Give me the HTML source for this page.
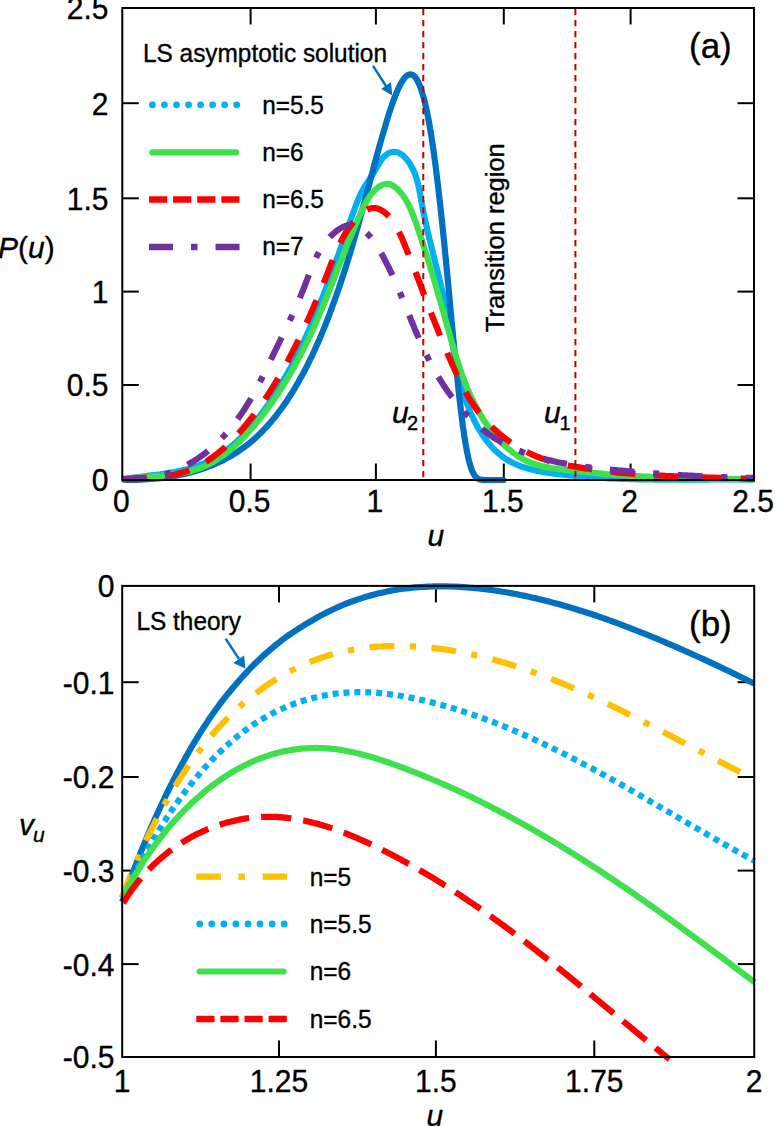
<!DOCTYPE html><html><head><meta charset="utf-8"><style>html,body{margin:0;padding:0;background:#fff;overflow:hidden;font-family:"Liberation Sans",sans-serif}svg{display:block}</style></head><body><svg width="775" height="1126" viewBox="0 0 775 1126" font-family="Liberation Sans">
<style>text{font-family:"Liberation Sans",sans-serif;stroke:#000;stroke-width:0.35px;fill:#000}</style>
<rect width="775" height="1126" fill="#fff"/>
<g stroke="#000" stroke-width="2" fill="none">
<line x1="250.6" y1="480" x2="250.6" y2="463.5"/>
<line x1="250.6" y1="8" x2="250.6" y2="24.5"/>
<line x1="375.9" y1="480" x2="375.9" y2="463.5"/>
<line x1="375.9" y1="8" x2="375.9" y2="24.5"/>
<line x1="503.8" y1="480" x2="503.8" y2="463.5"/>
<line x1="503.8" y1="8" x2="503.8" y2="24.5"/>
<line x1="630.6" y1="480" x2="630.6" y2="463.5"/>
<line x1="630.6" y1="8" x2="630.6" y2="24.5"/>
<line x1="122.3" y1="385.0" x2="138.8" y2="385.0"/>
<line x1="754" y1="385.0" x2="737.5" y2="385.0"/>
<line x1="122.3" y1="291.6" x2="138.8" y2="291.6"/>
<line x1="754" y1="291.6" x2="737.5" y2="291.6"/>
<line x1="122.3" y1="198.3" x2="138.8" y2="198.3"/>
<line x1="754" y1="198.3" x2="737.5" y2="198.3"/>
<line x1="122.3" y1="103.2" x2="138.8" y2="103.2"/>
<line x1="754" y1="103.2" x2="737.5" y2="103.2"/>
</g>
<g fill="none" stroke-linejoin="round">
<path d="M122.0 479.5L125.4 478.9L128.7 478.4L132.1 477.9L135.5 477.4L139.0 477.0L142.5 476.5L146.0 476.1L149.5 475.6L153.1 475.2L156.6 474.7L160.2 474.3L163.7 473.8L167.3 473.2L170.8 472.6L174.3 472.0L177.8 471.3L181.3 470.6L184.8 469.8L188.2 468.9L191.5 467.9L194.9 466.9L198.2 465.7L201.4 464.5L204.6 463.2L207.7 461.7L210.8 460.2L213.8 458.5L216.7 456.8L219.6 455.0L222.5 453.1L225.3 451.1L228.0 449.0L230.8 446.8L233.4 444.6L236.0 442.3L238.6 439.9L241.1 437.5L243.6 435.0L246.0 432.5L248.4 429.9L250.7 427.2L253.0 424.5L255.3 421.8L257.5 419.0L259.7 416.2L261.8 413.4L263.9 410.5L266.0 407.6L268.1 404.7L270.1 401.7L272.0 398.7L274.0 395.8L275.9 392.8L277.8 389.8L279.6 386.8L281.4 383.8L283.2 380.7L285.0 377.7L286.7 374.6L288.4 371.6L290.1 368.5L291.8 365.4L293.4 362.4L295.0 359.3L296.6 356.2L298.2 353.0L299.7 349.9L301.2 346.8L302.7 343.7L304.2 340.5L305.7 337.4L307.1 334.2L308.5 331.0L309.9 327.9L311.3 324.7L312.7 321.5L314.1 318.3L315.4 315.1L316.7 311.9L318.0 308.7L319.3 305.5L320.6 302.2L321.9 299.0L323.2 295.8L324.4 292.5L325.7 289.3L326.9 286.0L328.1 282.7L329.3 279.5L330.5 276.2L331.7 272.9L332.9 269.7L334.1 266.4L335.3 263.1L336.5 259.8L337.7 256.5L338.9 253.2L340.0 249.9L341.2 246.6L342.4 243.3L343.5 240.0L344.7 236.7L345.9 233.3L347.1 230.0L348.2 226.7L349.4 223.4L350.6 220.0L351.8 216.7L353.0 213.4L354.2 210.1L355.4 206.7L356.6 203.4L357.9 200.2L359.3 197.0L360.7 193.9L362.3 190.8L363.9 187.9L365.7 185.0L367.5 182.2L369.4 179.4L371.2 176.5L373.1 173.5L375.0 170.5L376.8 167.3L378.7 164.0L380.6 160.8L382.8 157.8L385.3 155.4L388.1 153.4L391.1 152.2L394.1 151.8L397.0 152.2L399.8 153.3L402.5 155.1L405.0 157.5L407.4 160.2L409.6 163.3L411.5 166.6L413.3 170.1L414.8 173.5L416.0 177.0L417.1 180.4L418.0 183.8L418.8 187.2L419.5 190.6L420.1 194.0L420.7 197.4L421.3 200.7L421.9 204.1L422.5 207.5L423.2 210.9L423.9 214.3L424.6 217.7L425.3 221.1L426.1 224.5L426.9 227.8L427.6 231.2L428.4 234.6L429.2 238.0L430.1 241.4L430.9 244.8L431.7 248.2L432.6 251.6L433.4 255.0L434.3 258.4L435.1 261.8L436.0 265.2L436.8 268.6L437.7 272.0L438.5 275.4L439.3 278.8L440.2 282.2L441.0 285.7L441.8 289.1L442.6 292.5L443.4 295.9L444.1 299.4L444.9 302.8L445.6 306.2L446.3 309.7L447.0 313.1L447.7 316.6L448.3 320.0L448.9 323.5L449.5 326.9L450.1 330.4L450.7 333.8L451.3 337.3L451.9 340.7L452.5 344.2L453.1 347.6L453.7 351.1L454.4 354.5L455.0 357.9L455.7 361.4L456.3 364.8L457.0 368.2L457.8 371.6L458.5 375.0L459.3 378.4L460.2 381.7L461.1 385.1L462.0 388.4L463.0 391.7L464.0 395.1L465.1 398.4L466.2 401.6L467.4 404.9L468.7 408.1L470.0 411.4L471.4 414.6L472.9 417.8L474.4 420.9L476.1 424.1L477.8 427.2L479.6 430.3L481.5 433.3L483.4 436.3L485.5 439.1L487.6 441.9L489.9 444.7L492.2 447.3L494.6 449.8L497.1 452.2L499.7 454.4L502.4 456.6L505.2 458.5L508.0 460.3L511.0 462.0L514.1 463.5L517.2 464.9L520.4 466.2L523.7 467.3L527.0 468.3L530.4 469.3L533.8 470.1L537.3 470.9L540.8 471.5L544.3 472.1L547.8 472.7L551.4 473.2L554.9 473.7L558.5 474.1L562.0 474.5L565.5 474.9L569.0 475.3L572.6 475.6L576.1 475.9L579.6 476.2L583.0 476.5L586.5 476.8L590.0 477.1L593.4 477.3L596.9 477.6L600.4 477.8L603.8 478.0L607.2 478.2L610.7 478.3L614.1 478.5L617.5 478.6L621.0 478.8L624.4 478.9L627.8 479.0L631.2 479.1L634.7 479.2L638.1 479.3L641.5 479.4L644.9 479.4L648.3 479.5L651.8 479.5L655.2 479.6L658.6 479.6L662.1 479.6L665.5 479.6L668.9 479.6L672.4 479.7L675.8 479.7L679.3 479.7L682.7 479.7L686.2 479.6L689.7 479.6L693.2 479.6L696.7 479.6L700.2 479.6L703.7 479.6L707.2 479.6L710.7 479.5L714.2 479.5L717.8 479.5L721.4 479.5L724.9 479.5L728.5 479.5L732.1 479.5L735.7 479.5L739.3 479.5L743.0 479.5L746.6 479.5L750.3 479.5L754.0 479.5" stroke="#00b0f0" stroke-width="6.2"/>
<path d="M124.3 480.0L126.7 480.0L129.1 480.0L131.5 479.9L133.9 479.9L136.3 479.8L138.7 479.7L141.1 479.6L143.5 479.5L145.9 479.3L148.3 479.2L150.7 479.0L153.1 478.8L155.5 478.6L157.9 478.3L160.3 478.1L162.7 477.8L165.1 477.5L167.5 477.1L169.9 476.8L172.3 476.4L174.7 476.0L177.1 475.5L179.5 475.0L181.9 474.5L184.3 474.0L186.7 473.4L189.1 472.8L191.5 472.2L193.9 471.5L196.3 470.8L198.7 470.1L201.1 469.3L203.5 468.5L205.9 467.6L208.3 466.7L210.7 465.8L213.1 464.8L215.5 463.8L217.9 462.7L220.3 461.6L222.7 460.4L225.1 459.1L227.5 457.8L229.9 456.5L232.3 455.1L234.7 453.6L237.1 452.1L239.5 450.5L241.9 448.8L244.3 447.1L246.7 445.2L249.1 443.4L251.5 441.4L253.9 439.4L256.2 437.3L258.5 435.1L260.9 432.8L263.2 430.4L265.6 427.9L267.9 425.4L270.3 422.7L272.6 419.9L275.0 417.1L277.3 414.1L279.6 411.0L282.0 407.8L284.3 404.5L286.7 401.1L289.0 397.5L291.4 393.8L293.7 390.0L296.0 386.0L298.4 382.0L300.7 377.8L303.1 373.5L305.4 369.1L307.8 364.5L310.1 359.7L312.5 354.8L314.8 349.8L317.1 344.5L319.5 339.2L321.8 333.6L324.2 327.9L326.5 322.0L328.9 315.9L331.2 309.7L333.5 303.3L335.9 296.7L338.2 290.0L340.6 283.1L342.9 276.0L345.3 268.8L347.6 261.4L349.9 253.8L352.2 246.1L354.4 238.3L356.7 230.3L359.0 222.2L361.2 214.0L363.5 205.7L365.8 197.4L368.0 188.8L370.3 180.2L372.6 171.6L374.8 163.1L377.1 154.6L379.4 146.2L381.8 138.0L384.1 130.0L386.4 122.2L388.7 114.7L391.0 107.6L393.3 101.0L395.7 94.9L398.0 89.4L400.3 84.6L402.6 80.6L404.9 77.5L407.2 75.4L409.6 74.4L412.0 74.6L414.4 76.2L416.8 79.3L419.1 84.0L421.5 90.3L423.9 98.5L426.3 108.5L428.7 120.4L431.1 134.4L433.5 150.4L435.9 168.3L438.3 188.1L440.7 209.4L443.1 232.1L445.5 256.0L447.9 280.7L450.2 306.0L452.6 331.2L453.3 337.9L453.9 344.6L454.6 351.2L455.2 357.7L455.9 364.1L456.5 370.4L457.2 376.7L457.8 382.7L458.4 388.8L459.1 394.7L459.7 400.4L460.4 406.0L461.0 411.4L461.7 416.6L462.3 421.6L462.9 426.5L463.6 431.1L464.2 435.4L464.9 439.6L465.5 443.5L466.2 447.2L466.8 450.7L467.5 453.9L468.1 457.0L468.7 459.7L469.4 462.3L470.0 464.6L470.7 466.7L471.3 468.6L472.0 470.4L472.6 471.9L473.3 473.2L473.9 474.4L474.5 475.4L475.2 476.3L475.8 477.0L476.5 477.7L477.1 478.2L477.8 478.6L478.4 478.9L479.1 479.2L479.7 479.4L480.3 479.6L481.0 479.7L481.6 479.8L482.3 479.9L482.9 479.9L483.6 479.9L484.2 480.0L484.9 480.0L485.5 480.0L486.1 480.0L486.8 480.0L487.4 480.0L488.1 480.0L488.7 480.0L489.4 480.0L490.0 480.0L490.7 480.0L491.3 480.0L491.9 480.0L492.6 480.0L493.2 480.0L493.9 480.0L494.5 480.0L495.2 480.0L495.8 480.0L496.5 480.0L497.1 480.0L497.7 480.0L498.4 480.0L499.0 480.0L499.7 480.0L500.3 480.0L501.0 480.0L501.6 480.0L502.3 480.0L502.9 480.0L503.5 480.0L503.5 478.3" stroke="#0070c0" stroke-width="6.2"/>
<path d="M122.0 479.5L125.1 479.1L128.3 478.7L131.5 478.3L134.7 478.0L137.9 477.7L141.2 477.4L144.5 477.1L147.8 476.9L151.2 476.6L154.5 476.3L157.8 476.1L161.2 475.8L164.5 475.4L167.9 475.1L171.2 474.6L174.5 474.2L177.8 473.7L181.1 473.1L184.3 472.5L187.6 471.8L190.7 471.0L193.9 470.1L197.0 469.2L200.0 468.1L203.0 466.9L206.0 465.6L208.9 464.2L211.7 462.8L214.5 461.2L217.3 459.5L220.0 457.7L222.6 455.9L225.3 454.0L227.8 452.0L230.3 449.9L232.8 447.8L235.3 445.6L237.7 443.3L240.0 441.0L242.4 438.7L244.7 436.3L246.9 433.9L249.1 431.4L251.3 428.9L253.5 426.4L255.6 423.9L257.7 421.3L259.8 418.8L261.8 416.2L263.8 413.6L265.8 410.9L267.8 408.3L269.7 405.6L271.6 403.0L273.5 400.3L275.3 397.6L277.1 394.9L278.9 392.1L280.7 389.4L282.4 386.6L284.2 383.8L285.9 381.0L287.6 378.2L289.2 375.4L290.8 372.6L292.5 369.8L294.1 366.9L295.6 364.0L297.2 361.2L298.7 358.3L300.2 355.4L301.7 352.5L303.2 349.6L304.7 346.7L306.1 343.7L307.5 340.8L308.9 337.8L310.3 334.9L311.7 331.9L313.1 329.0L314.4 326.0L315.7 323.0L317.0 320.0L318.3 317.0L319.6 314.0L320.9 311.0L322.2 308.0L323.4 305.0L324.7 302.0L325.9 299.0L327.1 295.9L328.3 292.9L329.6 289.9L330.8 286.8L331.9 283.8L333.1 280.8L334.3 277.7L335.5 274.7L336.7 271.7L337.9 268.6L339.0 265.6L340.2 262.6L341.4 259.5L342.6 256.5L343.8 253.5L345.0 250.4L346.2 247.4L347.4 244.4L348.6 241.3L349.9 238.3L351.1 235.3L352.4 232.3L353.7 229.2L354.9 226.2L356.3 223.2L357.6 220.2L358.9 217.2L360.3 214.2L361.7 211.2L363.1 208.2L364.5 205.3L366.0 202.3L367.7 199.4L369.5 196.6L371.5 193.8L373.8 191.2L376.3 188.8L378.9 186.7L381.7 185.1L384.5 184.1L387.3 183.9L390.2 184.4L392.9 185.6L395.6 187.5L398.1 189.8L400.5 192.4L402.7 195.1L404.6 197.9L406.4 200.8L408.1 203.8L409.6 206.8L410.9 209.8L412.2 212.8L413.4 215.9L414.5 219.0L415.6 222.0L416.7 225.1L417.8 228.2L418.8 231.3L419.9 234.4L420.9 237.5L421.9 240.6L422.9 243.7L423.9 246.8L424.9 249.9L425.9 253.1L426.9 256.2L427.9 259.3L428.8 262.4L429.8 265.5L430.7 268.6L431.7 271.7L432.6 274.9L433.5 278.0L434.5 281.1L435.4 284.2L436.3 287.4L437.2 290.5L438.1 293.6L439.0 296.8L439.9 299.9L440.8 303.0L441.7 306.2L442.6 309.3L443.5 312.5L444.3 315.6L445.2 318.8L446.1 321.9L447.0 325.1L447.9 328.2L448.8 331.4L449.7 334.5L450.5 337.7L451.4 340.8L452.3 344.0L453.3 347.2L454.2 350.3L455.1 353.4L456.1 356.6L457.1 359.7L458.1 362.8L459.1 365.9L460.1 369.0L461.2 372.1L462.3 375.2L463.4 378.2L464.6 381.3L465.7 384.3L467.0 387.3L468.2 390.3L469.5 393.3L470.8 396.3L472.2 399.2L473.6 402.1L475.1 405.0L476.6 407.9L478.2 410.8L479.8 413.6L481.5 416.4L483.2 419.1L485.0 421.9L486.8 424.6L488.7 427.3L490.7 429.9L492.7 432.5L494.8 435.1L497.0 437.6L499.2 440.1L501.4 442.4L503.8 444.8L506.2 447.0L508.6 449.1L511.2 451.2L513.8 453.2L516.4 455.0L519.1 456.8L521.9 458.5L524.7 460.0L527.6 461.4L530.6 462.6L533.6 463.8L536.7 464.8L539.8 465.6L542.9 466.4L546.2 467.1L549.4 467.6L552.6 468.2L555.9 468.7L559.2 469.1L562.5 469.5L565.7 470.0L569.0 470.4L572.3 470.7L575.6 471.1L578.8 471.5L582.1 471.8L585.3 472.2L588.6 472.5L591.9 472.8L595.1 473.1L598.4 473.4L601.6 473.7L604.9 474.0L608.1 474.3L611.4 474.5L614.6 474.8L617.9 475.0L621.1 475.2L624.4 475.4L627.6 475.7L630.9 475.9L634.1 476.0L637.4 476.2L640.6 476.4L643.9 476.6L647.1 476.7L650.4 476.9L653.6 477.0L656.9 477.2L660.1 477.3L663.4 477.4L666.6 477.6L669.9 477.7L673.1 477.8L676.4 477.9L679.6 478.0L682.9 478.1L686.1 478.2L689.4 478.3L692.7 478.3L695.9 478.4L699.2 478.5L702.5 478.6L705.7 478.6L709.0 478.7L712.3 478.8L715.5 478.8L718.8 478.9L722.1 479.0L725.4 479.0L728.6 479.1L731.9 479.1L735.2 479.2L738.5 479.2L741.8 479.3L745.1 479.3L748.4 479.4L751.7 479.4L755.0 479.5" stroke="#3ee04c" stroke-width="6.2"/>
<path d="M122.0 479.5L124.9 479.2L127.9 478.8L130.9 478.6L133.9 478.3L137.0 478.1L140.1 478.0L143.2 477.8L146.4 477.6L149.6 477.4L152.7 477.2L155.9 476.9L159.1 476.7L162.3 476.4L165.4 476.0L168.6 475.5L171.7 475.0L174.8 474.5L177.8 473.8L180.8 473.0L183.8 472.1L186.7 471.2L189.6 470.1L192.4 468.9L195.2 467.7L197.9 466.3L200.6 464.9L203.3 463.4L205.9 461.8L208.4 460.2L211.0 458.4L213.5 456.6L215.9 454.8L218.3 452.9L220.7 450.9L223.1 448.9L225.4 446.8L227.7 444.6L229.9 442.5L232.1 440.3L234.3 438.0L236.4 435.7L238.5 433.4L240.6 431.1L242.7 428.7L244.7 426.3L246.7 423.9L248.6 421.5L250.6 419.1L252.5 416.6L254.3 414.2L256.2 411.7L258.0 409.2L259.8 406.7L261.6 404.2L263.4 401.6L265.1 399.1L266.8 396.5L268.5 393.9L270.2 391.3L271.8 388.7L273.4 386.1L275.0 383.5L276.6 380.8L278.2 378.2L279.7 375.5L281.3 372.9L282.8 370.2L284.3 367.5L285.7 364.8L287.2 362.1L288.7 359.3L290.1 356.6L291.5 353.9L292.9 351.1L294.3 348.4L295.7 345.6L297.1 342.8L298.4 340.1L299.8 337.3L301.1 334.5L302.5 331.7L303.8 328.9L305.1 326.1L306.4 323.3L307.6 320.5L308.9 317.7L310.2 314.8L311.4 312.0L312.7 309.2L313.9 306.3L315.1 303.5L316.3 300.6L317.5 297.8L318.7 294.9L319.9 292.1L321.1 289.2L322.3 286.4L323.4 283.5L324.6 280.6L325.7 277.8L326.9 274.9L328.0 272.1L329.1 269.2L330.2 266.3L331.3 263.5L332.5 260.6L333.6 257.7L334.8 254.9L336.0 252.1L337.2 249.2L338.5 246.4L339.9 243.7L341.3 240.9L342.7 238.1L344.2 235.4L345.9 232.7L347.6 230.0L349.4 227.4L351.2 224.8L353.2 222.2L355.4 219.7L357.6 217.2L359.9 214.9L362.3 212.8L364.8 210.9L367.3 209.5L369.9 208.5L372.5 208.0L375.1 208.0L377.7 208.6L380.3 209.7L382.8 211.1L385.2 212.9L387.5 215.0L389.6 217.2L391.6 219.7L393.5 222.2L395.2 224.9L396.8 227.7L398.4 230.6L399.8 233.6L401.2 236.6L402.5 239.6L403.7 242.6L405.0 245.6L406.2 248.6L407.4 251.6L408.6 254.5L409.7 257.4L410.9 260.3L412.0 263.2L413.1 266.0L414.2 268.9L415.3 271.7L416.4 274.5L417.5 277.4L418.6 280.2L419.7 283.0L420.8 285.9L421.8 288.7L422.9 291.5L424.0 294.4L425.1 297.2L426.2 300.1L427.3 303.0L428.4 305.8L429.5 308.7L430.6 311.6L431.7 314.4L432.8 317.3L434.0 320.2L435.1 323.1L436.2 325.9L437.4 328.8L438.5 331.7L439.7 334.6L440.9 337.5L442.0 340.3L443.2 343.2L444.4 346.1L445.6 349.0L446.8 351.8L448.0 354.7L449.3 357.6L450.5 360.4L451.8 363.3L453.0 366.1L454.3 369.0L455.6 371.8L456.9 374.7L458.2 377.5L459.6 380.3L460.9 383.1L462.3 385.9L463.8 388.6L465.3 391.3L466.8 394.1L468.3 396.7L469.9 399.4L471.6 402.0L473.3 404.6L475.1 407.1L476.9 409.6L478.7 412.1L480.7 414.5L482.6 416.9L484.7 419.3L486.7 421.6L488.8 423.8L491.0 426.0L493.2 428.2L495.5 430.3L497.8 432.4L500.1 434.4L502.5 436.3L504.9 438.3L507.4 440.1L509.9 441.9L512.4 443.6L515.0 445.3L517.6 447.0L520.3 448.5L523.0 450.0L525.7 451.5L528.5 452.8L531.3 454.2L534.1 455.4L537.0 456.6L539.8 457.7L542.8 458.8L545.7 459.7L548.7 460.7L551.7 461.5L554.7 462.3L557.7 463.1L560.7 463.8L563.8 464.5L566.8 465.1L569.9 465.7L573.0 466.3L576.1 466.9L579.1 467.4L582.2 467.9L585.3 468.4L588.4 468.8L591.5 469.3L594.5 469.7L597.6 470.1L600.7 470.5L603.8 470.9L606.9 471.3L609.9 471.6L613.0 472.0L616.1 472.3L619.1 472.6L622.2 472.9L625.3 473.2L628.4 473.4L631.4 473.7L634.5 473.9L637.6 474.2L640.6 474.4L643.7 474.6L646.8 474.8L649.9 475.0L652.9 475.2L656.0 475.4L659.1 475.5L662.2 475.7L665.2 475.9L668.3 476.0L671.4 476.1L674.5 476.3L677.5 476.4L680.6 476.5L683.7 476.7L686.8 476.8L689.9 476.9L692.9 477.0L696.0 477.1L699.1 477.2L702.2 477.3L705.3 477.4L708.4 477.5L711.5 477.6L714.6 477.7L717.7 477.8L720.8 477.9L723.9 477.9L727.0 478.0L730.1 478.1L733.2 478.2L736.3 478.3L739.4 478.4L742.5 478.5L745.6 478.7L748.8 478.8L751.9 478.9L755.0 479.0" stroke="#ff0000" stroke-width="6.2" stroke-dasharray="24.8 18.6"/>
<path d="M122.0 478.7L125.0 479.0L128.1 479.2L131.1 479.3L134.1 479.4L137.1 479.3L140.1 479.2L143.1 478.9L146.1 478.6L149.1 478.2L152.0 477.7L154.9 477.1L157.8 476.5L160.7 475.7L163.6 474.9L166.4 474.0L169.2 473.0L172.0 472.0L174.8 470.9L177.6 469.7L180.3 468.5L183.0 467.2L185.6 465.8L188.3 464.3L190.9 462.8L193.4 461.3L196.0 459.7L198.5 458.0L200.9 456.3L203.4 454.5L205.8 452.7L208.1 450.8L210.5 448.9L212.7 446.9L215.0 444.9L217.2 442.8L219.3 440.7L221.4 438.6L223.5 436.4L225.5 434.2L227.5 432.0L229.5 429.7L231.3 427.4L233.2 425.1L235.0 422.7L236.8 420.3L238.5 417.9L240.2 415.4L241.9 413.0L243.6 410.5L245.2 408.0L246.8 405.4L248.3 402.9L249.9 400.3L251.4 397.7L252.8 395.1L254.3 392.5L255.7 389.8L257.2 387.2L258.6 384.5L260.0 381.9L261.3 379.2L262.7 376.5L264.0 373.8L265.4 371.1L266.7 368.4L268.0 365.7L269.3 363.0L270.6 360.3L271.9 357.6L273.2 354.9L274.5 352.2L275.8 349.5L277.1 346.8L278.4 344.2L279.7 341.5L281.0 338.8L282.3 336.1L283.6 333.5L284.8 330.8L286.1 328.1L287.4 325.5L288.7 322.8L289.9 320.1L291.2 317.4L292.4 314.7L293.6 312.0L294.9 309.3L296.1 306.6L297.3 303.9L298.5 301.1L299.6 298.4L300.8 295.6L301.9 292.9L303.0 290.1L304.2 287.3L305.2 284.4L306.3 281.6L307.4 278.8L308.5 275.9L309.6 273.1L310.7 270.2L311.8 267.4L313.0 264.6L314.2 261.8L315.5 259.1L316.8 256.3L318.2 253.7L319.6 251.0L321.2 248.4L322.8 245.9L324.6 243.4L326.4 241.0L328.4 238.7L330.5 236.4L332.7 234.3L335.0 232.2L337.5 230.3L340.0 228.6L342.6 227.1L345.3 226.0L347.9 225.2L350.6 224.9L353.2 225.0L355.8 225.6L358.3 226.6L360.7 228.0L363.1 229.8L365.4 231.7L367.6 233.9L369.7 236.2L371.6 238.6L373.5 241.0L375.3 243.6L377.0 246.2L378.6 248.8L380.2 251.4L381.7 254.1L383.2 256.8L384.6 259.5L386.0 262.2L387.4 264.9L388.8 267.6L390.1 270.4L391.4 273.1L392.6 275.8L393.9 278.5L395.1 281.3L396.3 284.0L397.5 286.8L398.7 289.5L399.8 292.3L401.0 295.0L402.1 297.8L403.2 300.5L404.4 303.3L405.5 306.0L406.6 308.8L407.7 311.5L408.8 314.3L409.9 317.0L411.0 319.8L412.1 322.5L413.3 325.3L414.4 328.0L415.5 330.8L416.7 333.5L417.9 336.2L419.0 339.0L420.2 341.7L421.5 344.4L422.7 347.1L424.0 349.8L425.2 352.5L426.6 355.2L427.9 357.9L429.3 360.6L430.7 363.3L432.1 365.9L433.5 368.6L435.0 371.2L436.5 373.9L438.1 376.5L439.7 379.1L441.3 381.7L442.9 384.2L444.6 386.8L446.3 389.3L448.0 391.8L449.8 394.2L451.6 396.7L453.4 399.1L455.3 401.5L457.2 403.8L459.1 406.2L461.0 408.5L463.0 410.7L465.0 412.9L467.1 415.1L469.2 417.3L471.3 419.4L473.4 421.4L475.6 423.4L477.8 425.4L480.1 427.3L482.4 429.2L484.7 431.0L487.0 432.8L489.4 434.5L491.8 436.2L494.2 437.8L496.7 439.4L499.2 440.9L501.8 442.4L504.3 443.8L506.9 445.1L509.6 446.4L512.2 447.7L514.9 448.9L517.6 450.1L520.3 451.2L523.1 452.3L525.9 453.3L528.7 454.3L531.5 455.2L534.3 456.1L537.2 457.0L540.1 457.8L542.9 458.6L545.9 459.4L548.8 460.1L551.7 460.8L554.7 461.5L557.6 462.2L560.6 462.8L563.6 463.3L566.6 463.9L569.6 464.4L572.6 464.9L575.6 465.4L578.6 465.9L581.7 466.3L584.7 466.7L587.7 467.1L590.8 467.5L593.8 467.9L596.9 468.2L599.9 468.6L602.9 468.9L606.0 469.2L609.0 469.5L612.0 469.8L615.0 470.1L618.1 470.4L621.1 470.6L624.1 470.9L627.1 471.2L630.0 471.4L633.0 471.7L636.0 471.9L638.9 472.2L641.9 472.4L644.9 472.6L647.8 472.9L650.7 473.1L653.7 473.3L656.6 473.5L659.6 473.7L662.5 474.0L665.4 474.2L668.3 474.3L671.3 474.5L674.2 474.7L677.1 474.9L680.1 475.1L683.0 475.3L685.9 475.4L688.9 475.6L691.8 475.7L694.7 475.9L697.7 476.1L700.6 476.2L703.6 476.3L706.6 476.5L709.5 476.6L712.5 476.7L715.5 476.8L718.5 477.0L721.5 477.1L724.5 477.2L727.5 477.3L730.5 477.4L733.5 477.5L736.6 477.6L739.6 477.6L742.7 477.7L745.8 477.8L748.9 477.9L752.0 477.9L755.1 478.0" stroke="#7030a0" stroke-width="6.2" stroke-dasharray="24.8 18.6 6.2 18.6"/>
</g>
<line x1="423.3" y1="9" x2="423.3" y2="480" stroke="#c00000" stroke-width="2" stroke-dasharray="6.3 4.7"/>
<line x1="575.4" y1="9" x2="575.4" y2="480" stroke="#c00000" stroke-width="2" stroke-dasharray="6.3 4.7"/>
<rect x="122.3" y="8" width="631.7" height="472" stroke="#000" stroke-width="2" fill="none"/>
<g stroke="#0070c0" stroke-width="2.4" fill="#0070c0">
<line x1="373" y1="65.8" x2="386" y2="86"/>
<path d="M392.3 95.5 L381.3 89 L391 81.9 Z" stroke="none"/>
</g>
<text transform="translate(108.5 491.4) scale(1 1.040)" font-size="30.0" text-anchor="end" >0</text>
<text transform="translate(108.5 396.4) scale(1 1.040)" font-size="30.0" text-anchor="end" >0.5</text>
<text transform="translate(108.5 303.0) scale(1 1.040)" font-size="30.0" text-anchor="end" >1</text>
<text transform="translate(108.5 209.7) scale(1 1.040)" font-size="30.0" text-anchor="end" >1.5</text>
<text transform="translate(108.5 114.6) scale(1 1.040)" font-size="30.0" text-anchor="end" >2</text>
<text transform="translate(108.5 19.4) scale(1 1.040)" font-size="30.0" text-anchor="end" >2.5</text>
<text transform="translate(121.3 512.0) scale(1 1.040)" font-size="30.0" text-anchor="middle" >0</text>
<text transform="translate(249.6 512.0) scale(1 1.040)" font-size="30.0" text-anchor="middle" >0.5</text>
<text transform="translate(374.9 512.0) scale(1 1.040)" font-size="30.0" text-anchor="middle" >1</text>
<text transform="translate(502.8 512.0) scale(1 1.040)" font-size="30.0" text-anchor="middle" >1.5</text>
<text transform="translate(629.6 512.0) scale(1 1.040)" font-size="30.0" text-anchor="middle" >2</text>
<text transform="translate(753.0 512.0) scale(1 1.040)" font-size="30.0" text-anchor="middle" >2.5</text>
<text x="-2" y="258" font-size="30"><tspan font-style="italic">P</tspan>(<tspan font-style="italic">u</tspan>)</text>
<text x="427.5" y="545.5" font-size="30" font-style="italic">u</text>
<text transform="translate(143.0 61.5) scale(1 1.045)" font-size="24.4" text-anchor="start" >LS asymptotic solution</text>
<g fill="none" stroke-width="6.5">
<line x1="152.4" y1="104.8" x2="237" y2="104.8" stroke="#00b0f0" stroke-linecap="round" stroke-width="6.8" stroke-dasharray="0.01 12.03"/>
<line x1="152.4" y1="152.4" x2="236" y2="152.4" stroke="#3ee04c" stroke-linecap="round" stroke-width="6.2"/>
<line x1="149" y1="199.6" x2="239.6" y2="199.6" stroke="#ff0000" stroke-dasharray="18.2 5.9"/>
<line x1="149" y1="247" x2="239.6" y2="247" stroke="#7030a0" stroke-width="6.3" stroke-dasharray="24 18 6.5 18"/>
</g>
<text transform="translate(262.2 113.6) scale(1 1.045)" font-size="24.4" text-anchor="start" >n=5.5</text>
<text transform="translate(262.2 160.8) scale(1 1.045)" font-size="24.4" text-anchor="start" >n=6</text>
<text transform="translate(262.2 207.9) scale(1 1.045)" font-size="24.4" text-anchor="start" >n=6.5</text>
<text transform="translate(262.2 255.1) scale(1 1.045)" font-size="24.4" text-anchor="start" >n=7</text>
<text x="689" y="58.3" font-size="35">(a)</text>
<text transform="translate(503.5 332.2) rotate(-90)" font-size="25.5">Transition region</text>
<text x="392" y="422.6" font-size="30" font-style="italic">u</text><text x="407" y="429.5" font-size="20">2</text>
<text x="544" y="422.7" font-size="30" font-style="italic">u</text><text x="559.5" y="429.8" font-size="20">1</text>
<g stroke="#000" stroke-width="2" fill="none">
<line x1="279.0" y1="1057" x2="279.0" y2="1040.5"/>
<line x1="279.0" y1="585.9" x2="279.0" y2="602.4"/>
<line x1="435.9" y1="1057" x2="435.9" y2="1040.5"/>
<line x1="435.9" y1="585.9" x2="435.9" y2="602.4"/>
<line x1="594.3" y1="1057" x2="594.3" y2="1040.5"/>
<line x1="594.3" y1="585.9" x2="594.3" y2="602.4"/>
<line x1="122.2" y1="964.1" x2="138.7" y2="964.1"/>
<line x1="754.2" y1="964.1" x2="737.7" y2="964.1"/>
<line x1="122.2" y1="870.6" x2="138.7" y2="870.6"/>
<line x1="754.2" y1="870.6" x2="737.7" y2="870.6"/>
<line x1="122.2" y1="777.0" x2="138.7" y2="777.0"/>
<line x1="754.2" y1="777.0" x2="737.7" y2="777.0"/>
<line x1="122.2" y1="682.2" x2="138.7" y2="682.2"/>
<line x1="754.2" y1="682.2" x2="737.7" y2="682.2"/>
</g>
<g fill="none" stroke-linejoin="round">
<path d="M122.2 901.8L125.4 892.9L128.5 884.2L131.7 875.7L134.8 867.4L138.0 859.3L141.1 851.4L144.3 843.6L147.4 836.1L150.6 828.7L153.7 821.5L156.9 814.5L160.0 807.7L163.2 801.0L166.3 794.4L169.5 788.0L172.6 781.8L175.8 775.7L178.9 769.7L182.1 763.9L185.2 758.2L188.4 752.6L191.5 747.1L194.7 741.8L197.8 736.7L201.0 731.6L204.1 726.7L207.3 721.9L210.4 717.2L213.6 712.7L216.8 708.2L219.9 704.0L223.1 699.9L226.2 695.9L229.4 692.0L232.5 688.2L235.7 684.5L238.8 680.9L242.0 677.3L245.1 673.9L248.3 670.5L251.4 667.2L254.6 664.1L257.7 661.0L260.9 658.0L264.0 655.1L267.2 652.3L270.3 649.6L273.5 646.9L276.6 644.3L279.8 641.9L282.9 639.4L286.1 637.1L289.2 634.9L292.4 632.7L295.6 630.6L298.7 628.5L301.9 626.6L305.0 624.6L308.2 622.8L311.3 621.0L314.5 619.1L317.6 617.3L320.8 615.6L323.9 613.9L327.1 612.3L330.2 610.7L333.4 609.2L336.6 607.7L339.7 606.3L342.9 605.0L346.0 603.7L349.2 602.5L352.3 601.3L355.5 600.2L358.6 599.1L361.8 598.1L364.9 597.1L368.1 596.2L371.2 595.3L374.4 594.4L377.6 593.6L380.7 592.9L383.9 592.2L387.0 591.5L390.2 590.9L393.3 590.3L396.5 589.8L399.6 589.3L402.8 588.8L405.9 588.4L409.1 588.1L412.2 587.7L415.4 587.4L418.6 587.2L421.7 587.0L424.9 586.8L428.0 586.6L431.2 586.5L434.3 586.4L437.5 586.4L440.7 586.4L443.9 586.4L447.0 586.4L450.2 586.5L453.4 586.6L456.6 586.7L459.8 586.9L463.0 587.1L466.1 587.3L469.3 587.6L472.5 587.8L475.7 588.1L478.9 588.5L482.1 588.8L485.3 589.2L488.4 589.6L491.6 590.0L494.8 590.5L498.0 591.0L501.2 591.5L504.4 592.0L507.5 592.5L510.7 593.1L513.9 593.7L517.1 594.3L520.3 595.0L523.5 595.6L526.6 596.3L529.8 597.0L533.0 597.7L536.2 598.4L539.4 599.2L542.6 600.0L545.7 600.8L548.9 601.6L552.1 602.4L555.3 603.3L558.5 604.1L561.7 605.0L564.8 605.9L568.0 606.8L571.2 607.8L574.4 608.7L577.6 609.7L580.8 610.7L584.0 611.7L587.1 612.7L590.3 613.7L593.5 614.8L596.7 615.8L599.9 617.0L603.1 618.1L606.4 619.2L609.6 620.4L612.8 621.5L616.0 622.7L619.2 623.9L622.4 625.1L625.6 626.3L628.9 627.6L632.1 628.8L635.3 630.1L638.5 631.3L641.7 632.6L644.9 633.9L648.1 635.2L651.3 636.5L654.6 637.8L657.8 639.2L661.0 640.5L664.2 641.9L667.4 643.3L670.6 644.6L673.8 646.0L677.1 647.4L680.3 648.8L683.5 650.2L686.7 651.7L689.9 653.1L693.1 654.6L696.3 656.0L699.6 657.5L702.8 658.9L706.0 660.4L709.2 661.9L712.4 663.4L715.6 664.9L718.8 666.4L722.1 668.0L725.3 669.5L728.5 671.0L731.7 672.6L734.9 674.1L738.1 675.7L741.3 677.3L744.6 678.8L747.8 680.4L751.0 682.0L754.2 683.5" stroke="#0070c0" stroke-width="6.2"/>
<path d="M121.7 897.8L122.6 895.5L123.5 893.2L124.4 891.0L125.3 888.7L126.2 886.3L127.2 884.0L128.1 881.7L129.1 879.4L130.0 877.1L131.0 874.7L132.0 872.4L133.0 870.0L134.0 867.7L135.0 865.3L136.0 863.0L137.0 860.6L138.1 858.3L139.1 855.9L140.2 853.5L141.2 851.2L142.3 848.8L143.4 846.4L144.5 844.0L145.6 841.7L146.7 839.3L147.9 836.9L149.0 834.5L150.2 832.2L151.3 829.8L152.5 827.4L153.7 825.1L154.9 822.7L156.1 820.3L157.3 818.0L158.6 815.6L159.8 813.3L161.1 810.9L162.3 808.6L163.6 806.2L164.9 803.9L166.2 801.5L167.5 799.2L168.9 796.9L170.2 794.6L171.6 792.3L172.9 790.0L174.3 787.7L175.7 785.4L177.1 783.1L178.6 780.8L180.0 778.5L181.4 776.3L182.9 774.0L184.4 771.8L185.9 769.6L187.4 767.3L188.9 765.1L190.4 762.9L192.0 760.7L193.5 758.6L195.1 756.4L196.7 754.2L198.3 752.1L199.9 750.0L201.5 747.9L203.2 745.7L204.8 743.7L206.5 741.6L208.2 739.5L209.9 737.5L211.6 735.4L213.4 733.4L215.1 731.4L216.9 729.4L218.7 727.4L220.5 725.5L222.3 723.6L224.1 721.6L226.0 719.7L227.8 717.8L229.7 716.0L231.6 714.1L233.5 712.3L235.5 710.5L237.4 708.7L239.4 706.9L241.3 705.1L243.3 703.4L245.3 701.7L247.3 700.0L249.4 698.3L251.4 696.7L253.5 695.0L255.6 693.4L257.7 691.9L259.8 690.3L261.9 688.7L264.0 687.2L266.2 685.7L268.4 684.3L270.5 682.8L272.7 681.4L274.9 680.0L277.2 678.6L279.4 677.3L281.6 676.0L283.9 674.7L286.2 673.4L288.4 672.1L290.7 670.9L293.0 669.7L295.4 668.6L297.7 667.4L300.0 666.3L302.4 665.3L304.8 664.2L307.1 663.2L309.5 662.2L311.9 661.2L314.3 660.3L316.7 659.4L319.2 658.5L321.6 657.7L324.1 656.9L326.5 656.1L329.0 655.3L331.5 654.6L334.0 653.9L336.5 653.3L339.0 652.7L341.5 652.1L344.0 651.5L346.5 651.0L349.1 650.4L351.6 650.0L354.2 649.5L356.7 649.1L359.3 648.7L361.8 648.3L364.4 648.0L367.0 647.7L369.6 647.4L372.2 647.1L374.8 646.9L377.4 646.7L380.0 646.5L382.6 646.4L385.2 646.2L387.8 646.1L390.4 646.1L393.0 646.0L395.7 646.0L398.3 646.0L400.9 646.0L403.5 646.0L406.1 646.1L408.8 646.2L411.4 646.3L414.0 646.4L416.6 646.5L419.3 646.7L421.9 646.9L424.5 647.1L427.1 647.4L429.7 647.6L432.4 647.9L435.0 648.2L437.6 648.5L440.2 648.8L442.8 649.2L445.4 649.5L448.0 649.9L450.6 650.3L453.2 650.8L455.8 651.2L458.3 651.7L460.9 652.1L463.5 652.6L466.1 653.1L468.6 653.7L471.2 654.2L473.8 654.8L476.3 655.4L478.9 655.9L481.5 656.6L484.0 657.2L486.6 657.8L489.1 658.5L491.6 659.1L494.2 659.8L496.7 660.5L499.3 661.2L501.8 662.0L504.3 662.7L506.8 663.5L509.3 664.2L511.9 665.0L514.4 665.8L516.9 666.6L519.4 667.5L521.9 668.3L524.4 669.1L526.9 670.0L529.4 670.9L531.9 671.7L534.4 672.6L536.9 673.6L539.4 674.5L541.8 675.4L544.3 676.3L546.8 677.3L549.3 678.2L551.7 679.2L554.2 680.2L556.7 681.2L559.1 682.2L561.6 683.2L564.0 684.2L566.5 685.2L568.9 686.3L571.4 687.3L573.8 688.4L576.2 689.4L578.7 690.5L581.1 691.6L583.5 692.7L586.0 693.8L588.4 694.9L590.8 696.0L593.2 697.1L595.7 698.2L598.1 699.3L600.5 700.5L602.9 701.6L605.3 702.7L607.7 703.9L610.1 705.0L612.5 706.2L614.9 707.4L617.3 708.5L619.7 709.7L622.1 710.9L624.4 712.1L626.8 713.3L629.2 714.5L631.6 715.6L633.9 716.8L636.3 718.0L638.7 719.2L641.0 720.5L643.4 721.7L645.8 722.9L648.1 724.1L650.5 725.3L652.8 726.5L655.2 727.7L657.5 729.0L659.9 730.2L662.2 731.4L664.5 732.6L666.9 733.9L669.2 735.1L671.5 736.3L673.9 737.5L676.2 738.7L678.5 740.0L680.8 741.2L683.2 742.4L685.5 743.6L687.8 744.9L690.1 746.1L692.4 747.3L694.7 748.5L697.0 749.7L699.3 750.9L701.6 752.1L703.9 753.3L706.2 754.5L708.5 755.7L710.8 756.9L713.1 758.1L715.4 759.3L717.6 760.5L719.9 761.7L722.2 762.9L724.5 764.0L726.7 765.2L729.0 766.4L731.3 767.5L733.6 768.7L735.8 769.8L738.1 771.0L740.3 772.1L742.6 773.2L744.8 774.4L747.1 775.5L749.3 776.6L751.6 777.7L753.8 778.8" stroke="#ffc000" stroke-width="6.2" stroke-dasharray="24.8 15.5 6.2 15.5"/>
<path d="M123.0 898.0L124.0 895.9L125.0 893.8L126.0 891.7L127.0 889.6L128.0 887.5L129.1 885.3L130.1 883.2L131.2 881.0L132.2 878.9L133.3 876.7L134.4 874.5L135.5 872.3L136.7 870.1L137.8 867.9L138.9 865.7L140.1 863.5L141.3 861.3L142.5 859.0L143.7 856.8L144.9 854.6L146.1 852.4L147.3 850.1L148.6 847.9L149.9 845.7L151.1 843.4L152.4 841.2L153.7 838.9L155.1 836.7L156.4 834.5L157.7 832.2L159.1 830.0L160.5 827.8L161.9 825.5L163.2 823.3L164.7 821.1L166.1 818.9L167.5 816.7L169.0 814.5L170.4 812.3L171.9 810.1L173.4 807.9L174.9 805.7L176.4 803.5L178.0 801.4L179.5 799.2L181.1 797.1L182.6 794.9L184.2 792.8L185.8 790.7L187.4 788.6L189.1 786.5L190.7 784.4L192.4 782.3L194.0 780.3L195.7 778.2L197.4 776.2L199.1 774.2L200.8 772.2L202.6 770.2L204.3 768.2L206.1 766.2L207.9 764.3L209.7 762.4L211.5 760.4L213.3 758.6L215.1 756.7L217.0 754.8L218.8 753.0L220.7 751.2L222.6 749.4L224.5 747.6L226.4 745.8L228.4 744.1L230.3 742.4L232.3 740.7L234.2 739.0L236.2 737.4L238.2 735.8L240.3 734.2L242.3 732.6L244.3 731.1L246.4 729.5L248.5 728.0L250.6 726.6L252.7 725.1L254.8 723.7L256.9 722.3L259.1 721.0L261.2 719.6L263.4 718.3L265.6 717.1L267.8 715.8L270.1 714.6L272.3 713.4L274.5 712.3L276.8 711.2L279.1 710.1L281.4 709.0L283.7 708.0L286.0 707.0L288.3 706.0L290.7 705.1L293.0 704.2L295.4 703.3L297.8 702.5L300.1 701.7L302.5 700.9L304.9 700.2L307.4 699.5L309.8 698.8L312.2 698.2L314.6 697.6L317.1 697.0L319.5 696.4L322.0 695.9L324.5 695.4L327.0 695.0L329.4 694.6L331.9 694.2L334.4 693.8L336.9 693.5L339.4 693.2L341.9 693.0L344.4 692.8L347.0 692.6L349.5 692.4L352.0 692.3L354.5 692.3L357.1 692.2L359.6 692.2L362.1 692.2L364.7 692.3L367.2 692.3L369.8 692.4L372.3 692.6L374.8 692.7L377.4 692.9L379.9 693.1L382.5 693.4L385.0 693.7L387.6 694.0L390.1 694.3L392.6 694.6L395.2 695.0L397.7 695.4L400.3 695.8L402.8 696.2L405.3 696.7L407.9 697.1L410.4 697.6L412.9 698.1L415.5 698.7L418.0 699.2L420.5 699.8L423.0 700.3L425.5 700.9L428.1 701.5L430.6 702.1L433.1 702.8L435.6 703.4L438.0 704.1L440.5 704.7L443.0 705.4L445.5 706.1L448.0 706.8L450.4 707.6L452.9 708.3L455.4 709.0L457.8 709.8L460.3 710.6L462.7 711.3L465.2 712.1L467.6 712.9L470.1 713.8L472.5 714.6L474.9 715.4L477.4 716.3L479.8 717.1L482.2 718.0L484.6 718.9L487.1 719.8L489.5 720.7L491.9 721.6L494.3 722.5L496.7 723.5L499.1 724.4L501.5 725.4L503.9 726.3L506.3 727.3L508.6 728.3L511.0 729.3L513.4 730.3L515.8 731.3L518.1 732.3L520.5 733.3L522.9 734.4L525.2 735.4L527.6 736.5L529.9 737.5L532.3 738.6L534.6 739.7L537.0 740.8L539.3 741.9L541.7 743.0L544.0 744.1L546.3 745.2L548.7 746.3L551.0 747.4L553.3 748.6L555.7 749.7L558.0 750.8L560.3 752.0L562.6 753.2L564.9 754.3L567.2 755.5L569.5 756.7L571.8 757.9L574.1 759.0L576.4 760.2L578.7 761.4L581.0 762.6L583.3 763.9L585.6 765.1L587.9 766.3L590.2 767.5L592.5 768.7L594.8 770.0L597.0 771.2L599.3 772.4L601.6 773.7L603.9 774.9L606.1 776.2L608.4 777.4L610.7 778.7L612.9 780.0L615.2 781.2L617.4 782.5L619.7 783.8L621.9 785.0L624.2 786.3L626.5 787.6L628.7 788.9L630.9 790.2L633.2 791.4L635.4 792.7L637.7 794.0L639.9 795.3L642.2 796.6L644.4 797.9L646.6 799.2L648.9 800.5L651.1 801.8L653.3 803.1L655.6 804.4L657.8 805.7L660.0 806.9L662.2 808.2L664.5 809.5L666.7 810.8L668.9 812.1L671.1 813.4L673.3 814.7L675.6 816.0L677.8 817.3L680.0 818.6L682.2 819.9L684.4 821.2L686.6 822.5L688.8 823.8L691.0 825.1L693.2 826.3L695.5 827.6L697.7 828.9L699.9 830.2L702.1 831.5L704.3 832.7L706.5 834.0L708.7 835.3L710.9 836.6L713.1 837.8L715.3 839.1L717.5 840.3L719.7 841.6L721.9 842.8L724.1 844.1L726.2 845.3L728.4 846.6L730.6 847.8L732.8 849.0L735.0 850.3L737.2 851.5L739.4 852.7L741.6 853.9L743.8 855.1L746.0 856.3L748.2 857.5L750.4 858.7L752.6 859.9L754.7 861.1" stroke="#00b0f0" stroke-width="6.2" stroke-dasharray="6 4.9"/>
<path d="M122.9 897.7L124.0 895.6L125.1 893.5L126.2 891.4L127.3 889.2L128.5 887.1L129.6 885.0L130.8 882.8L132.0 880.7L133.2 878.6L134.5 876.4L135.7 874.3L137.0 872.2L138.3 870.0L139.6 867.9L140.9 865.8L142.3 863.6L143.6 861.5L145.0 859.4L146.4 857.3L147.8 855.2L149.2 853.1L150.7 851.0L152.2 848.9L153.7 846.8L155.2 844.7L156.7 842.7L158.3 840.6L159.8 838.5L161.4 836.5L163.0 834.5L164.6 832.4L166.3 830.4L167.9 828.4L169.6 826.4L171.3 824.4L173.0 822.5L174.7 820.5L176.5 818.6L178.3 816.6L180.1 814.7L181.9 812.8L183.7 810.9L185.5 809.1L187.4 807.2L189.3 805.4L191.2 803.6L193.1 801.8L195.0 800.0L197.0 798.2L198.9 796.5L200.9 794.8L202.9 793.1L204.9 791.4L207.0 789.7L209.0 788.1L211.1 786.5L213.1 784.9L215.2 783.4L217.3 781.9L219.4 780.4L221.6 778.9L223.7 777.4L225.9 776.0L228.1 774.6L230.3 773.3L232.5 772.0L234.7 770.7L236.9 769.4L239.1 768.2L241.4 767.0L243.7 765.8L245.9 764.7L248.2 763.6L250.5 762.5L252.8 761.5L255.1 760.5L257.5 759.5L259.8 758.6L262.2 757.7L264.5 756.9L266.9 756.1L269.3 755.3L271.7 754.5L274.1 753.8L276.5 753.2L278.9 752.6L281.3 752.0L283.7 751.4L286.2 750.9L288.6 750.5L291.0 750.0L293.5 749.6L295.9 749.3L298.4 749.0L300.8 748.7L303.3 748.5L305.8 748.3L308.2 748.2L310.7 748.0L313.2 748.0L315.6 747.9L318.1 748.0L320.6 748.0L323.0 748.1L325.5 748.3L328.0 748.4L330.5 748.7L332.9 748.9L335.4 749.2L337.9 749.5L340.3 749.9L342.8 750.3L345.3 750.7L347.7 751.2L350.2 751.7L352.7 752.2L355.1 752.8L357.6 753.3L360.0 753.9L362.5 754.6L365.0 755.2L367.4 755.9L369.9 756.6L372.3 757.3L374.7 758.1L377.2 758.8L379.6 759.6L382.1 760.4L384.5 761.2L386.9 762.0L389.4 762.9L391.8 763.7L394.2 764.6L396.6 765.4L399.0 766.3L401.4 767.2L403.8 768.1L406.2 769.0L408.6 769.9L411.0 770.9L413.4 771.8L415.8 772.7L418.2 773.7L420.6 774.6L422.9 775.6L425.3 776.6L427.7 777.5L430.0 778.5L432.4 779.5L434.8 780.5L437.1 781.5L439.5 782.5L441.8 783.5L444.2 784.6L446.5 785.6L448.8 786.6L451.2 787.7L453.5 788.7L455.8 789.8L458.1 790.9L460.4 791.9L462.8 793.0L465.1 794.1L467.4 795.2L469.7 796.3L472.0 797.4L474.3 798.5L476.6 799.7L478.9 800.8L481.2 801.9L483.4 803.1L485.7 804.2L488.0 805.4L490.3 806.5L492.5 807.7L494.8 808.9L497.1 810.0L499.3 811.2L501.6 812.4L503.8 813.6L506.1 814.8L508.3 816.0L510.6 817.2L512.8 818.4L515.1 819.7L517.3 820.9L519.5 822.1L521.8 823.4L524.0 824.6L526.2 825.9L528.5 827.1L530.7 828.4L532.9 829.6L535.1 830.9L537.3 832.2L539.5 833.5L541.7 834.7L543.9 836.0L546.1 837.3L548.3 838.6L550.5 839.9L552.7 841.2L554.9 842.6L557.1 843.9L559.3 845.2L561.4 846.5L563.6 847.9L565.8 849.2L568.0 850.5L570.1 851.9L572.3 853.2L574.5 854.6L576.6 855.9L578.8 857.3L580.9 858.7L583.1 860.0L585.2 861.4L587.4 862.8L589.5 864.2L591.7 865.6L593.8 866.9L596.0 868.3L598.1 869.7L600.2 871.1L602.4 872.5L604.5 873.9L606.6 875.4L608.7 876.8L610.9 878.2L613.0 879.6L615.1 881.0L617.2 882.4L619.3 883.9L621.4 885.3L623.6 886.7L625.7 888.2L627.8 889.6L629.9 891.1L632.0 892.5L634.1 894.0L636.2 895.4L638.3 896.9L640.3 898.3L642.4 899.8L644.5 901.2L646.6 902.7L648.7 904.2L650.8 905.6L652.9 907.1L654.9 908.6L657.0 910.1L659.1 911.5L661.2 913.0L663.2 914.5L665.3 916.0L667.4 917.5L669.4 918.9L671.5 920.4L673.5 921.9L675.6 923.4L677.7 924.9L679.7 926.4L681.8 927.9L683.8 929.4L685.9 930.9L687.9 932.4L690.0 933.9L692.0 935.4L694.1 936.9L696.1 938.4L698.1 939.9L700.2 941.4L702.2 942.9L704.3 944.4L706.3 946.0L708.3 947.5L710.3 949.0L712.4 950.5L714.4 952.0L716.4 953.5L718.5 955.0L720.5 956.6L722.5 958.1L724.5 959.6L726.5 961.1L728.6 962.6L730.6 964.1L732.6 965.7L734.6 967.2L736.6 968.7L738.6 970.2L740.6 971.7L742.7 973.2L744.7 974.8L746.7 976.3L748.7 977.8L750.7 979.3L752.7 980.8L754.7 982.3" stroke="#3ee04c" stroke-width="6.2"/>
<path d="M123.2 903.0L124.5 901.0L125.7 899.0L126.9 897.0L128.2 895.1L129.5 893.1L130.9 891.2L132.2 889.4L133.6 887.5L135.0 885.7L136.4 883.8L137.8 882.0L139.2 880.3L140.7 878.5L142.2 876.8L143.7 875.1L145.2 873.4L146.8 871.7L148.3 870.1L149.9 868.5L151.5 866.9L153.1 865.3L154.7 863.7L156.4 862.2L158.0 860.7L159.7 859.2L161.4 857.7L163.1 856.3L164.8 854.9L166.6 853.5L168.3 852.1L170.1 850.8L171.9 849.5L173.7 848.2L175.5 846.9L177.3 845.7L179.1 844.4L181.0 843.3L182.8 842.1L184.7 840.9L186.6 839.8L188.5 838.7L190.4 837.6L192.3 836.6L194.2 835.6L196.1 834.6L198.1 833.6L200.0 832.7L202.0 831.7L204.0 830.8L205.9 830.0L207.9 829.1L209.9 828.3L211.9 827.5L214.0 826.8L216.0 826.0L218.0 825.3L220.0 824.7L222.1 824.0L224.1 823.4L226.2 822.8L228.2 822.2L230.3 821.7L232.4 821.2L234.4 820.7L236.5 820.2L238.6 819.8L240.7 819.4L242.8 819.0L244.9 818.6L246.9 818.3L249.0 818.0L251.1 817.8L253.2 817.5L255.3 817.3L257.5 817.2L259.6 817.0L261.7 816.9L263.8 816.8L265.9 816.8L268.0 816.8L270.1 816.8L272.2 816.8L274.3 816.9L276.4 816.9L278.5 817.1L280.6 817.2L282.7 817.4L284.8 817.6L286.9 817.8L289.0 818.1L291.1 818.3L293.2 818.6L295.3 819.0L297.4 819.3L299.5 819.7L301.6 820.1L303.7 820.5L305.8 821.0L307.9 821.4L310.0 821.9L312.1 822.4L314.2 823.0L316.2 823.5L318.3 824.1L320.4 824.7L322.5 825.3L324.6 825.9L326.6 826.6L328.7 827.2L330.8 827.9L332.8 828.6L334.9 829.3L337.0 830.1L339.0 830.8L341.1 831.6L343.1 832.4L345.2 833.1L347.2 834.0L349.3 834.8L351.3 835.6L353.3 836.5L355.4 837.3L357.4 838.2L359.4 839.1L361.4 840.0L363.4 840.9L365.5 841.8L367.5 842.7L369.5 843.7L371.5 844.6L373.5 845.6L375.5 846.5L377.5 847.5L379.4 848.5L381.4 849.4L383.4 850.4L385.4 851.4L387.3 852.4L389.3 853.4L391.3 854.5L393.2 855.5L395.2 856.5L397.1 857.5L399.1 858.6L401.0 859.6L402.9 860.7L404.9 861.7L406.8 862.8L408.7 863.9L410.6 864.9L412.5 866.0L414.4 867.1L416.3 868.2L418.2 869.3L420.1 870.4L422.0 871.5L423.9 872.6L425.8 873.7L427.7 874.8L429.5 875.9L431.4 877.0L433.3 878.2L435.1 879.3L437.0 880.5L438.9 881.6L440.7 882.8L442.6 883.9L444.4 885.1L446.3 886.2L448.1 887.4L449.9 888.6L451.8 889.8L453.6 890.9L455.4 892.1L457.2 893.3L459.1 894.5L460.9 895.7L462.7 896.9L464.5 898.1L466.3 899.3L468.1 900.6L469.9 901.8L471.7 903.0L473.5 904.2L475.3 905.5L477.1 906.7L478.9 907.9L480.7 909.2L482.4 910.4L484.2 911.7L486.0 912.9L487.8 914.2L489.5 915.5L491.3 916.7L493.1 918.0L494.8 919.3L496.6 920.5L498.4 921.8L500.1 923.1L501.9 924.4L503.6 925.7L505.4 926.9L507.1 928.2L508.9 929.5L510.6 930.8L512.3 932.1L514.1 933.4L515.8 934.7L517.5 936.1L519.3 937.4L521.0 938.7L522.7 940.0L524.5 941.3L526.2 942.6L527.9 944.0L529.6 945.3L531.3 946.6L533.1 948.0L534.8 949.3L536.5 950.6L538.2 952.0L539.9 953.3L541.6 954.7L543.3 956.0L545.0 957.3L546.7 958.7L548.4 960.0L550.1 961.4L551.8 962.8L553.5 964.1L555.2 965.5L556.9 966.8L558.6 968.2L560.3 969.5L562.0 970.9L563.7 972.3L565.4 973.6L567.1 975.0L568.8 976.4L570.4 977.8L572.1 979.1L573.8 980.5L575.5 981.9L577.2 983.3L578.9 984.6L580.6 986.0L582.2 987.4L583.9 988.8L585.6 990.2L587.3 991.5L589.0 992.9L590.6 994.3L592.3 995.7L594.0 997.1L595.7 998.5L597.3 999.8L599.0 1001.2L600.7 1002.6L602.4 1004.0L604.0 1005.4L605.7 1006.8L607.4 1008.2L609.1 1009.6L610.7 1010.9L612.4 1012.3L614.1 1013.7L615.8 1015.1L617.4 1016.5L619.1 1017.9L620.8 1019.3L622.5 1020.7L624.2 1022.1L625.8 1023.5L627.5 1024.8L629.2 1026.2L630.9 1027.6L632.5 1029.0L634.2 1030.4L635.9 1031.8L637.6 1033.2L639.2 1034.5L640.9 1035.9L642.6 1037.3L644.3 1038.7L646.0 1040.1L647.7 1041.5L649.3 1042.8L651.0 1044.2L652.7 1045.6L654.4 1047.0L656.1 1048.4L657.8 1049.7L659.4 1051.1L661.1 1052.5L662.8 1053.9L664.5 1055.2L666.2 1056.6L667.9 1058.0L669.6 1059.3" stroke="#ff0000" stroke-width="6.2" stroke-dasharray="30.2 12.1"/>
</g>
<rect x="122.2" y="585.9" width="632" height="471.1" stroke="#000" stroke-width="2" fill="none"/>
<g stroke="#0070c0" stroke-width="2.4" fill="#0070c0">
<line x1="225.6" y1="638.6" x2="239" y2="659"/>
<path d="M245.4 668.5 L233.2 662.9 L244.1 655.4 Z" stroke="none"/>
</g>
<text transform="translate(114.5 1068.4) scale(1 1.040)" font-size="30.0" text-anchor="end" >-0.5</text>
<text transform="translate(114.5 975.5) scale(1 1.040)" font-size="30.0" text-anchor="end" >-0.4</text>
<text transform="translate(114.5 882.0) scale(1 1.040)" font-size="30.0" text-anchor="end" >-0.3</text>
<text transform="translate(114.5 788.4) scale(1 1.040)" font-size="30.0" text-anchor="end" >-0.2</text>
<text transform="translate(114.5 693.6) scale(1 1.040)" font-size="30.0" text-anchor="end" >-0.1</text>
<text transform="translate(114.5 597.3) scale(1 1.040)" font-size="30.0" text-anchor="end" >0</text>
<text transform="translate(122.2 1092.0) scale(1 1.040)" font-size="30.0" text-anchor="middle" >1</text>
<text transform="translate(279.0 1092.0) scale(1 1.040)" font-size="30.0" text-anchor="middle" >1.25</text>
<text transform="translate(435.9 1092.0) scale(1 1.040)" font-size="30.0" text-anchor="middle" >1.5</text>
<text transform="translate(594.3 1092.0) scale(1 1.040)" font-size="30.0" text-anchor="middle" >1.75</text>
<text transform="translate(754.2 1092.0) scale(1 1.040)" font-size="30.0" text-anchor="middle" >2</text>
<text x="426.5" y="1126" font-size="30" font-style="italic">u</text>
<text x="19" y="834.7" font-size="30" font-style="italic">v</text><text x="33" y="842" font-size="21" font-style="italic">u</text>
<text transform="translate(136.5 630.2) scale(1 1.045)" font-size="24.4" text-anchor="start" >LS theory</text>
<text x="689" y="636" font-size="35">(b)</text>
<g fill="none">
<line x1="196.3" y1="876.7" x2="286.9" y2="876.7" stroke="#ffc000" stroke-width="6.2" stroke-dasharray="24.6 17.5 6.5 17.8 24.2"/>
<line x1="199.7" y1="924" x2="284.5" y2="924" stroke="#00b0f0" stroke-linecap="round" stroke-width="6.8" stroke-dasharray="0.01 12.06"/>
<line x1="199.7" y1="971.5" x2="283.5" y2="971.5" stroke="#3ee04c" stroke-linecap="round" stroke-width="6.2"/>
<line x1="196.3" y1="1018.9" x2="286.9" y2="1018.9" stroke="#ff0000" stroke-width="6.5" stroke-dasharray="18.2 5.9"/>
</g>
<text transform="translate(309.8 885.6) scale(1 1.045)" font-size="24.4" text-anchor="start" >n=5</text>
<text transform="translate(309.8 932.8) scale(1 1.045)" font-size="24.4" text-anchor="start" >n=5.5</text>
<text transform="translate(309.8 980.0) scale(1 1.045)" font-size="24.4" text-anchor="start" >n=6</text>
<text transform="translate(309.8 1028.0) scale(1 1.045)" font-size="24.4" text-anchor="start" >n=6.5</text>
</svg></body></html>
